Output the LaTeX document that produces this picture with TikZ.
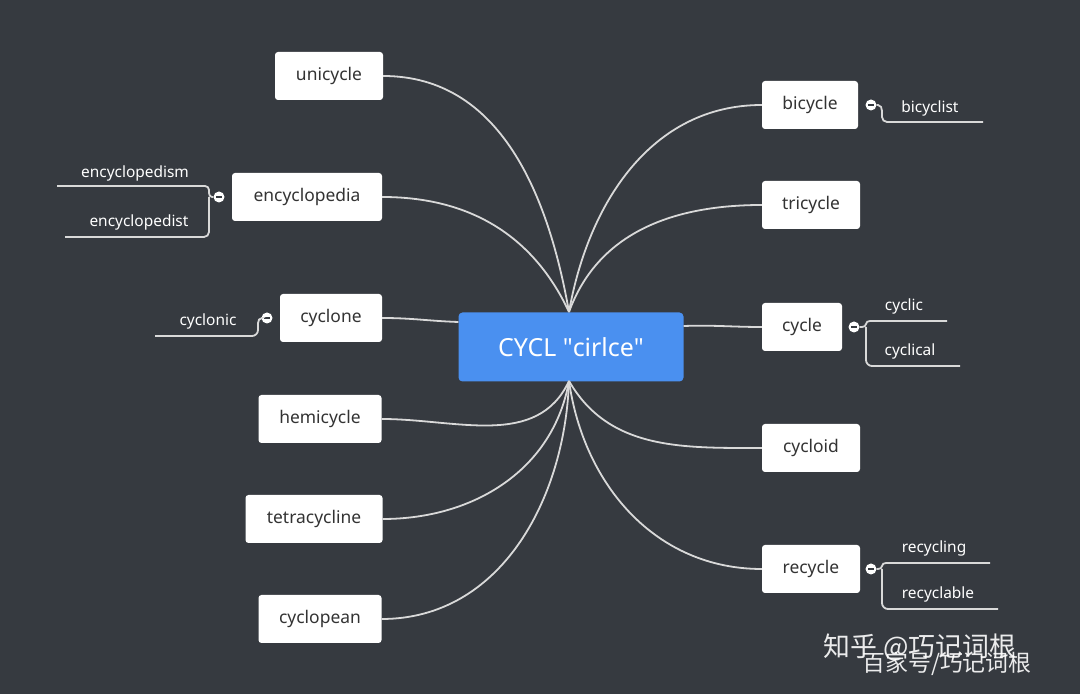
\documentclass[tikz,border=0pt]{standalone}
\usepackage{fontspec}
\setmainfont{Noto Sans}
\newfontfamily\qfont{Open Sans}
\newfontfamily\cjk{Noto Sans CJK SC}
\newcommand{\sq}{{\qfont\symbol{34}}}
\definecolor{bg}{HTML}{363A40}
\definecolor{ln}{HTML}{D9D9D9}
\definecolor{blu}{HTML}{4A90F0}
\definecolor{txt}{HTML}{333333}
\begin{document}
\begin{tikzpicture}[x=1bp,y=1bp,
  wbox/.style={draw=none,fill=white,rounded corners=3bp,minimum height=48bp,inner xsep=0bp,text=txt,font=\fontsize{17.5}{20}\selectfont},
  conn/.style={draw=ln,line width=1.8bp},
  sub/.style={text=white,font=\fontsize{15.5}{18}\selectfont},
  knob/.style={circle,fill=white,draw=none,minimum size=11bp,inner sep=0pt,path picture={\draw[bg,line width=1.5bp] ([xshift=-3bp]path picture bounding box.center)--([xshift=3bp]path picture bounding box.center);}}]
\fill[bg] (0,0) rectangle (1080,694);
\useasboundingbox (0,0) rectangle (1080,694);
% center
\node[fill=blu,rounded corners=4bp,minimum width=225bp,minimum height=69bp,text=white,font=\fontsize{25}{30}\selectfont] (c) at (571,347) {CYCL \sq cirlce\sq};
\coordinate (ct) at (569,382);
\coordinate (cb) at (569,313);
% left
\node[wbox,minimum width=108bp] (uni) at (329,618) {unicycle};
\node[wbox,minimum width=150bp] (enc) at (307,497) {encyclopedia};
\node[wbox,minimum width=102bp] (cyn) at (331,376) {cyclone};
\node[wbox,minimum width=123bp] (hem) at (320,275) {hemicycle};
\node[wbox,minimum width=137bp] (tet) at (314,175) {tetracycline};
\node[wbox,minimum width=123bp] (cyp) at (320,75) {cyclopean};
% right
\node[wbox,minimum width=96bp] (bic) at (810,589) {bicycle};
\node[wbox,minimum width=98bp] (tri) at (811,489) {tricycle};
\node[wbox,minimum width=80bp] (cyc) at (802,367) {cycle};
\node[wbox,minimum width=98bp] (cyd) at (811,246) {cycloid};
\node[wbox,minimum width=98bp] (rec) at (811,125) {recycle};
% main connectors
\draw[conn] (ct) to[out=100,in=0] (uni.east);
\draw[conn] (ct) to[out=115,in=0] (enc.east);
\draw[conn] (c.west|-0,372) to[out=178,in=0] (cyn.east);
\draw[conn] (cb) to[out=245,in=0] (hem.east);
\draw[conn] (cb) to[out=260,in=0] (tet.east);
\draw[conn] (cb) to[out=268,in=0] (cyp.east);
\draw[conn] (ct) to[out=80,in=180] (bic.west);
\draw[conn] (ct) to[out=70,in=180] (tri.west);
\draw[conn] (c.east|-0,368) to[out=2,in=180] (cyc.west);
\draw[conn] (cb) to[out=-60,in=180] (cyd.west);
\draw[conn] (cb) to[out=-82,in=180] (rec.west);
% sub branches: bicycle
\node[knob] (kb) at (871,589) {};
\coordinate (b1) at (983,572);
\draw[conn] (kb.east) -- (878,589) to[out=0,in=90] (882,583) -- (882,577) to[out=-90,in=180] (887,572) -- (b1);
\node[sub,above] (tb1) at (930,574) {bicyclist};
% encyclopedia
\node[knob] (ke) at (219,497) {};
\coordinate (e1) at (57,508);
\coordinate (e2) at (65,457);
\draw[conn] (ke.west) -- (212,497) to[out=180,in=-90] (209,501) -- (209,504) to[out=90,in=0] (205,508) -- (e1);
\draw[conn] (209,497) -- (209,462) to[out=-90,in=0] (204,457) -- (e2);
\node[sub,above] (te1) at (135,509) {encyclopedism};
\node[sub,above] (te2) at (139,460) {encyclopedist};
% cyclone
\node[knob] (kc) at (267,376) {};
\coordinate (n1) at (155,358);
\draw[conn] (kc.west) -- (262,376) to[out=180,in=90] (258,371) -- (258,364) to[out=-90,in=0] (252,358) -- (n1);
\node[sub,above] (tn1) at (208,361) {cyclonic};
% cycle
\node[knob] (ky) at (854,367) {};
\coordinate (y1) at (947,373);
\coordinate (y2) at (960,328);
\draw[conn] (ky.east) -- (862,367) to[out=0,in=-90] (866,370) to[out=90,in=180] (870,373) -- (y1);
\draw[conn] (866,367) -- (866,334) to[out=-90,in=180] (872,328) -- (y2);
\node[sub,above] (ty1) at (904,376) {cyclic};
\node[sub,above] (ty2) at (910,331) {cyclical};
% recycle
\node[knob] (kr) at (871,125) {};
\coordinate (r1) at (990,131);
\coordinate (r2) at (998,85);
\draw[conn] (kr.east) -- (878,125) to[out=0,in=-90] (882,128) to[out=90,in=180] (886,131) -- (r1);
\draw[conn] (882,125) -- (882,91) to[out=-90,in=180] (888,85) -- (r2);
\node[sub,above] (tr1) at (934,134) {recycling};
\node[sub,above] (tr2) at (938,88) {recyclable};
% watermark
\node[text=white,opacity=0.9,font=\cjk\fontsize{27}{30}\selectfont] (w1) at (920,46) {知乎 @巧记词根};
\node[text=white,opacity=0.9,font=\cjk\fontsize{23}{26}\selectfont] (w2) at (947,30) {百家号/巧记词根};
\end{tikzpicture}
\end{document}
